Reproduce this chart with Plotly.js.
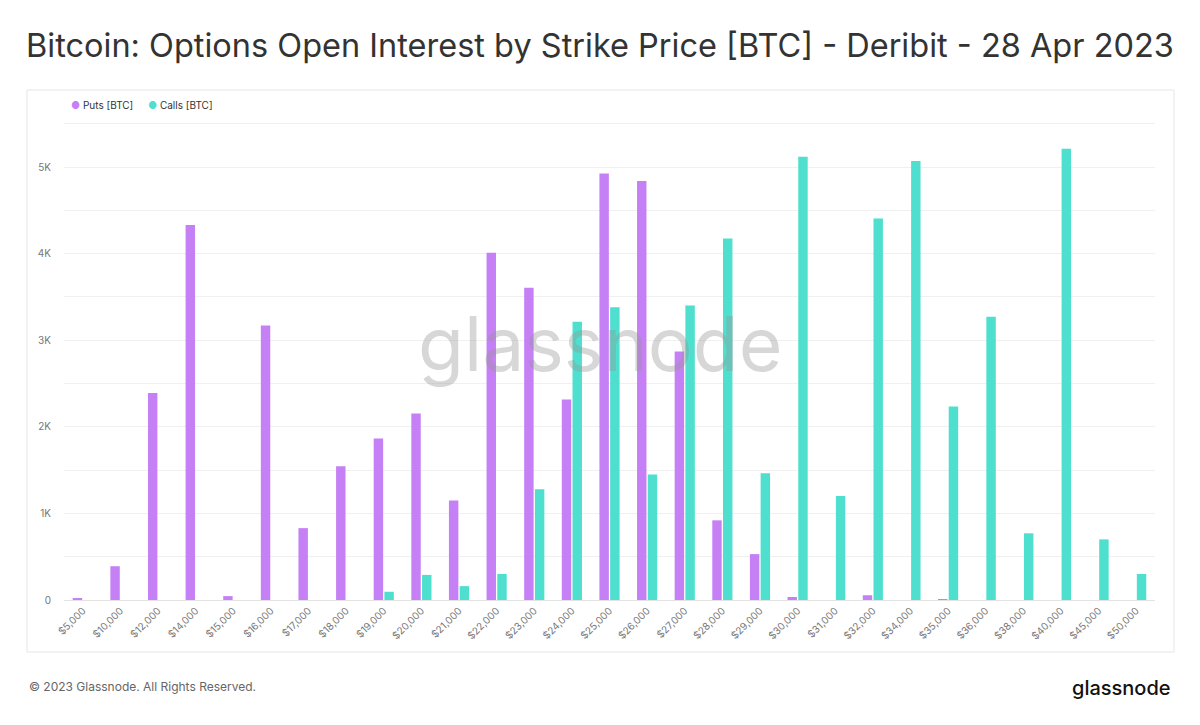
<!DOCTYPE html>
<html>
<head>
<meta charset="utf-8">
<script src="https://cdn.plot.ly/plotly-3.0.1.min.js"></script>
<style>
html,body{margin:0;padding:0;background:#fff;}
#chart{width:1200px;height:725px;}
</style>
</head>
<body>
<div id="chart"></div>
<script>
var strikes = ["$5,000","$10,000","$12,000","$14,000","$15,000","$16,000","$17,000","$18,000","$19,000","$20,000","$21,000","$22,000","$23,000","$24,000","$25,000","$26,000","$27,000","$28,000","$29,000","$30,000","$31,000","$32,000","$34,000","$35,000","$36,000","$38,000","$40,000","$45,000","$50,000"];
var puts = [20,390,2390,4330,45,3170,830,1545,1865,2155,1150,4010,3605,2315,4925,4840,2870,920,530,35,0,55,0,10,0,0,0,0,0];
var calls = [0,0,0,0,0,0,0,0,95,290,160,300,1280,3214,3380,1450,3400,4175,1465,5120,1200,4405,5070,2235,3270,770,5210,700,300];
var seriesNames = ["Puts [BTC]", "Calls [BTC]"];
var yTickVals = [0,1000,2000,3000,4000,5000];
var yTickText = ["0","1K","2K","3K","4K","5K"];

var W = 1200, H = 725;
var L = 64, R = 45, T = 122, B = 125;
var pw = W - L - R, ph = H - T - B;
function xp(px){ return (px - L) / pw; }
function yp(py){ return (H - B - py) / ph; }

var putColor = '#c680f5';
var callColor = '#4edfcf';

var traces = [
  {type:'bar', name:seriesNames[0], x:strikes, y:puts,
   marker:{color:putColor, line:{width:0}}, hoverinfo:'x+y'},
  {type:'bar', name:seriesNames[1], x:strikes, y:calls,
   marker:{color:callColor, line:{width:0}}, hoverinfo:'x+y'}
];

var layout = {
  width: W, height: H,
  margin: {l:L, r:R, t:T, b:B, pad:0},
  paper_bgcolor: '#ffffff',
  plot_bgcolor: '#ffffff',
  font: {family: 'Inter, "Noto Sans", sans-serif', color:'#555'},
  title: {
    text: 'Bitcoin: Options Open Interest by Strike Price [BTC] - Deribit - 28 Apr 2023',
    x: 26/W, xanchor:'left', xref:'container',
    y: 1 - 46/H, yanchor:'middle', yref:'container',
    font: {family:'Inter, "Noto Sans", sans-serif', size:32.5, color:'#333333'}
  },
  barmode: 'group',
  bargap: 0.43,
  bargroupgap: 0.12,
  showlegend: false,
  xaxis: {
    type:'category',
    tickangle:-45,
    tickfont:{size:10, color:'#777'},
    showgrid:false,
    showline:true, linecolor:'#e3e3e3', linewidth:1,
    ticks:'', zeroline:false,
    fixedrange:true
  },
  yaxis: {
    range:[0, 5520],
    tickvals: yTickVals, ticktext: yTickText,
    tickfont:{size:10, color:'#777'},
    showgrid:true, gridcolor:'#f0f0f0', gridwidth:1,
    minor:{dtick:500, tick0:0, showgrid:true, gridcolor:'#f0f0f0', gridwidth:1},
    zeroline:false, showline:false, ticks:'',
    ticklabelstandoff: 12,
    fixedrange:true
  },
  shapes: [
    {type:'rect', xref:'paper', yref:'paper', x0:xp(27), x1:xp(1174), y0:yp(652), y1:yp(90),
     line:{color:'#e6e6e6', width:1}, fillcolor:'rgba(0,0,0,0)', layer:'below'}
  ],
  annotations: [
    {xref:'paper', yref:'paper', x:xp(69), y:yp(105), xanchor:'left', yanchor:'middle',
     text:'<span style="color:'+putColor+'">●</span> '+seriesNames[0], showarrow:false,
     font:{family:'Inter, "Noto Sans", sans-serif', size:10, color:'#333'}},
    {xref:'paper', yref:'paper', x:xp(146), y:yp(105), xanchor:'left', yanchor:'middle',
     text:'<span style="color:'+callColor+'">●</span> '+seriesNames[1], showarrow:false,
     font:{family:'Inter, "Noto Sans", sans-serif', size:10, color:'#333'}},
    {xref:'paper', yref:'paper', x:xp(600), y:yp(343), xanchor:'center', yanchor:'middle',
     text:'glassnode', showarrow:false,
     font:{family:'Inter, "Open Sans", sans-serif', size:75, color:'rgba(150,150,150,0.38)'}},
    {xref:'paper', yref:'paper', x:xp(27), y:yp(686), xanchor:'left', yanchor:'middle',
     text:'© 2023 Glassnode. All Rights Reserved.', showarrow:false,
     font:{family:'Inter, "Noto Sans", sans-serif', size:12, color:'#666'}},
    {xref:'paper', yref:'paper', x:xp(1173), y:yp(688), xanchor:'right', yanchor:'middle',
     text:'glassnode', showarrow:false,
     font:{family:'Inter, "Noto Sans", sans-serif', size:20, color:'#111', weight:500}}
  ]
};

Plotly.newPlot('chart', traces, layout, {displayModeBar:false});
</script>
</body>
</html>
